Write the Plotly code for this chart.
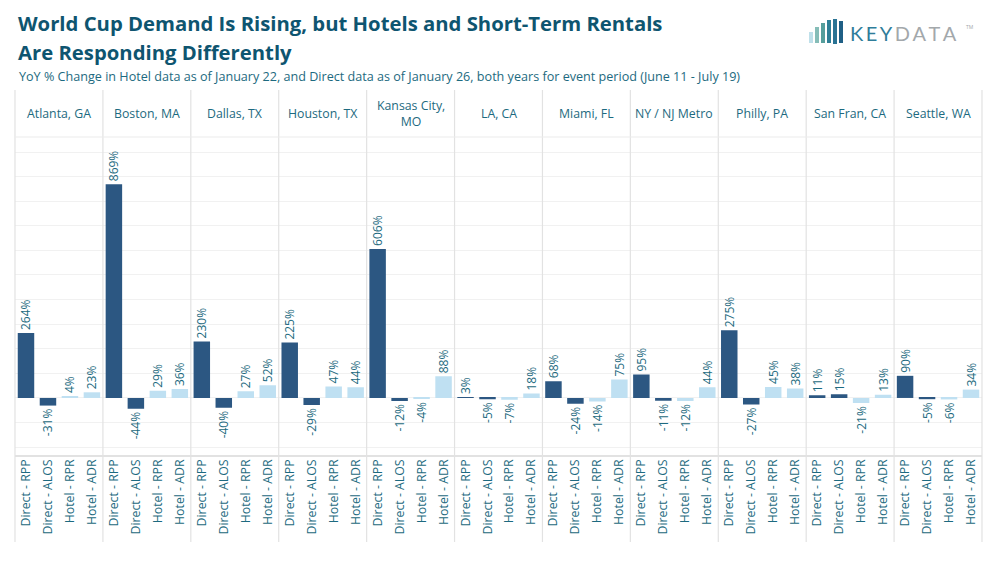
import plotly.graph_objects as go
from plotly.subplots import make_subplots

cities = ["Atlanta, GA", "Boston, MA", "Dallas, TX", "Houston, TX", "Kansas City,<br>MO",
          "LA, CA", "Miami, FL", "NY / NJ Metro", "Philly, PA", "San Fran, CA", "Seattle, WA"]
metrics = ["Direct - RPP", "Direct - ALOS", "Hotel - RPR", "Hotel - ADR"]
direct_rpp = [264, 869, 230, 225, 606, 3, 68, 95, 275, 11, 90]
direct_alos = [-31, -44, -40, -29, -12, -5, -24, -11, -27, 15, -5]
hotel_rpr = [4, 29, 27, 47, -4, -7, -14, -12, 45, -21, -6]
hotel_adr = [23, 36, 52, 44, 88, 18, 75, 44, 38, 13, 34]

DARK = "#2c5782"
LIGHT = "#bfe0f2"
TEAL = "#1d6a80"
TITLE = "#0e5570"
FONT = "Open Sans"

W, H = 992, 562
L, R, T, B = 15, 10, 137, 106
n = len(cities)

fig = make_subplots(rows=1, cols=n, shared_yaxes=True, horizontal_spacing=0)
for i in range(n):
    vals = [direct_rpp[i], direct_alos[i], hotel_rpr[i], hotel_adr[i]]
    fig.add_trace(go.Bar(
        x=metrics, y=vals,
        marker=dict(color=[DARK, DARK, LIGHT, LIGHT], line=dict(width=0)),
        text=[f"{v}%" for v in vals], textposition="outside", textangle=-90,
        textfont=dict(family=FONT, size=12, color=TEAL),
        constraintext="none", cliponaxis=False, showlegend=False,
    ), row=1, col=i + 1)
    fig.update_xaxes(tickangle=-90, tickfont=dict(family=FONT, size=12.3, color=TEAL),
                     showgrid=False, showline=False, ticks="", row=1, col=i + 1)

fig.update_yaxes(range=[-236, 1061], dtick=100, showticklabels=False, showgrid=True,
                 gridcolor="#f1f1f1", gridwidth=1, zeroline=False, showline=False)

def py(p):
    return (H - B - p) / (H - T - B)

def px(x):
    return (x - L) / (W - L - R)

shapes = []
pw = (W - L - R) / n
for i in range(n + 1):
    x = L + i * pw
    shapes.append(dict(type="line", xref="paper", yref="paper",
                       x0=px(x), x1=px(x),
                       y0=py(542), y1=py(90), line=dict(color="#e2e2e2", width=1.2)))
shapes.append(dict(type="line", xref="paper", yref="paper", x0=0, x1=1, y0=1, y1=1,
                   line=dict(color="#ececec", width=1.2)))
shapes.append(dict(type="line", xref="paper", yref="paper", x0=0, x1=1, y0=0, y1=0,
                   line=dict(color="#e2e2e2", width=2)))

# logo icon
icon = [(809, 813, 32, 43, "#bfe0ea"), (815, 819, 27, 43, "#86bdb8"), (821, 825, 23, 43, "#559e9c"),
        (827, 831, 20, 43, "#2f7f96"), (833, 837, 19, 44, "#2a7394"), (839, 843, 21, 43, "#1f5f85")]
for x0, x1, y0, y1, c in icon:
    shapes.append(dict(type="rect", xref="paper", yref="paper",
                       x0=px(x0), x1=px(x1),
                       y0=py(y1), y1=py(y0), fillcolor=c, line=dict(width=0), layer="above"))

ann = []
for i, c in enumerate(cities):
    xc = (i + 0.5) / n
    ann.append(dict(text=c, x=xc, y=py(113), xref="paper", yref="paper", showarrow=False,
                    xanchor="center", yanchor="middle",
                    font=dict(family=FONT, size=12.3, color=TEAL)))
ann.append(dict(text="<b>World Cup Demand Is Rising, but Hotels and Short-Term Rentals</b>",
                x=px(16), y=py(23), xref="paper", yref="paper", showarrow=False,
                xanchor="left", yanchor="middle", align="left",
                font=dict(family=FONT, size=20.3, color=TITLE)))
ann.append(dict(text="<b>Are Responding Differently</b>",
                x=px(16), y=py(52), xref="paper", yref="paper", showarrow=False,
                xanchor="left", yanchor="middle", align="left",
                font=dict(family=FONT, size=20.3, color=TITLE)))
ann.append(dict(text="YoY % Change in Hotel data as of January 22, and Direct data as of January 26, both years for event period (June 11 - July 19)",
                x=px(17), y=py(76), xref="paper", yref="paper", showarrow=False,
                xanchor="left", yanchor="middle", align="left",
                font=dict(family=FONT, size=12.6, color=TEAL)))
ts = "\u2009"
ann.append(dict(text="<span style='color:#2f7d9a'>" + ts.join("KEY") + "</span>" + ts +
                "<span style='color:#a3a8ab'>" + ts.join("DATA") + "</span>",
                x=px(848), y=py(33), xref="paper", yref="paper", showarrow=False,
                xanchor="left", yanchor="middle",
                font=dict(family="Lato", size=20)))
ann.append(dict(text="TM", x=px(964), y=py(27), xref="paper", yref="paper",
                showarrow=False, xanchor="left", yanchor="middle",
                font=dict(family=FONT, size=5, color="#a3a8ab")))

fig.update_layout(width=W, height=H, margin=dict(l=L, r=R, t=T, b=B),
                  paper_bgcolor="white", plot_bgcolor="white", bargap=0.25,
                  shapes=shapes, annotations=ann, font=dict(family=FONT))
fig.write_html("out.html")
